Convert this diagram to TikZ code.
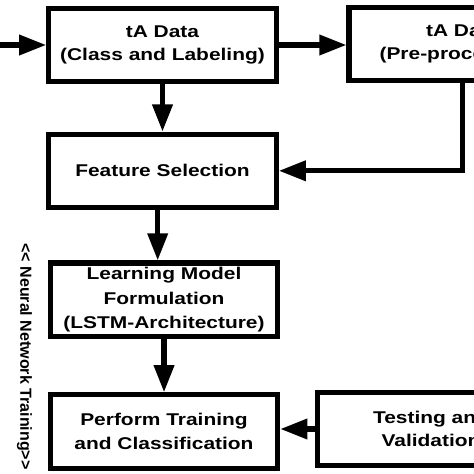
\documentclass[tikz,border=0pt]{standalone}
\usepackage{fontspec}
\usepackage{graphicx}
\newfontfamily\boxfont{Liberation Sans}[FakeStretch=1.23]
\newfontfamily\sidefont{Liberation Sans}
\usetikzlibrary{arrows.meta}

\begin{document}
\begin{tikzpicture}[x=0.025cm, y=-0.025cm,
    block/.style={rectangle, draw=black, line width=0.13cm, minimum width=5.68cm, minimum height=1.83cm,
      inner sep=0pt, align=center, font=\boxfont\bfseries\fontsize{12.1pt}{16.7pt}\selectfont},
    arrow/.style={line width=0.13cm, -{Triangle[length=0.68cm, width=0.49cm]}},
    sidelabel/.style={rotate=-90, inner sep=0pt, font=\sidefont\bfseries\fontsize{11.4pt}{13pt}\selectfont}
  ]
    \useasboundingbox (0,0) rectangle (474,474);
    \clip (0,0) rectangle (474,474);
    % Data boxes
    \node[block] (clsdata) at (162.5, 45) {tA Data\\(Class and Labeling)};
    \node[block] (predata) at (462.7, 44.2) {tA Data\\(Pre-processing)};
    % Training chain
    \node[block] (featsel) at (162.5, 170.8) {Feature Selection};
    \node[block] (lstm) at (164, 299.7) {Learning Model\\[1pt]Formulation\\[1pt](LSTM-Architecture)};
    \node[block] (train) at (164, 431.5) {Perform Training\\and Classification};
    \node[block] (testval) at (431, 429) {Testing and\\Validation};
    \node[sidelabel] (nnlabel) at (24.5, 356.5) {<< Neural Network Training>>};
    \coordinate (src) at (0, 45);
    % Arrows
    \draw[arrow] (src) -- (clsdata.west);
    \draw[arrow] (clsdata.east) -- (clsdata.east -| predata.west);
    \draw[arrow] (clsdata.south) -- (featsel.north);
    \draw[arrow] (predata.south) |- (featsel.east);
    \draw[arrow] ([xshift=-0.12cm]featsel.south) -- ([xshift=-0.12cm]featsel.south |- lstm.north);
    \draw[arrow] (lstm.south) -- (train.north);
    \draw[arrow] (testval.west) -- (testval.west -| train.east);
  \end{tikzpicture}
\end{document}
